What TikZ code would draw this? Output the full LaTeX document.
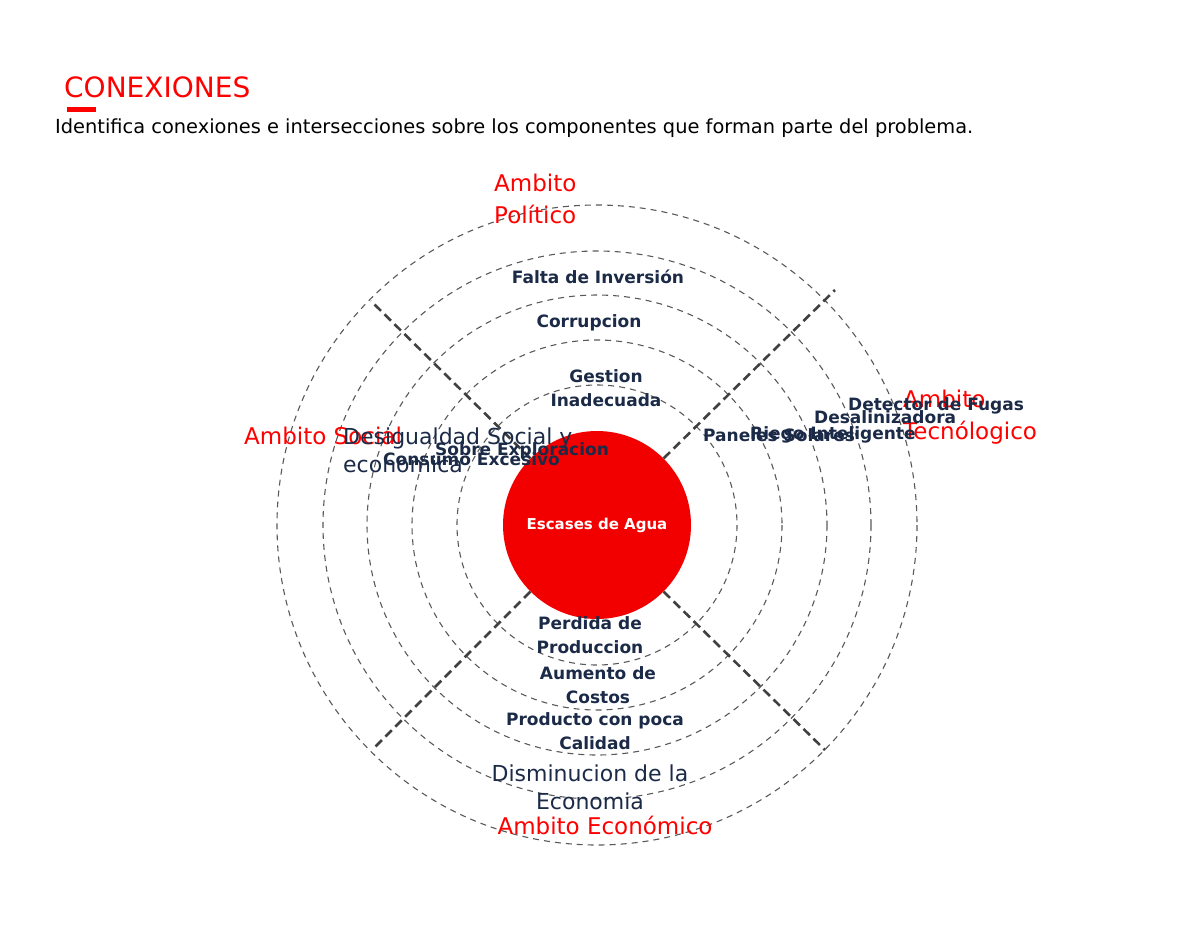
\documentclass[tikz,border=0pt]{standalone}
\usepackage{fontspec}
\setmainfont{DejaVu Sans}
\begin{document}
\begin{tikzpicture}[x=1pt,y=-1pt,
  ring/.style={draw=black!65,line width=1.1pt,dash pattern=on 6pt off 5pt},
  axis/.style={draw=black!75,line width=2.6pt,dash pattern=on 9pt off 5pt},
  lbl/.style={text=navy,font=\bfseries\fontsize{17}{24}\selectfont,align=center,inner sep=0pt},
  big/.style={text=navy,font=\fontsize{22}{28}\selectfont,align=center,inner sep=0pt},
  cat/.style={text=red,font=\fontsize{23}{32}\selectfont,align=left,inner sep=0pt}]
\definecolor{navy}{HTML}{1B2A47}
\useasboundingbox (0,0) rectangle (1200,927);
\node[anchor=west,text=red,font=\fontsize{28}{32}\selectfont,inner sep=0pt] (title) at (64,87) {CONEXIONES};
\fill[red] (67,107) rectangle (96,112);
\node[anchor=west,font=\fontsize{19.4}{22}\selectfont,inner sep=0pt] (sub) at (55,128) {Identifica conexiones e intersecciones sobre los componentes que forman parte del problema.};
\coordinate (c) at (597,525);
\foreach \r in {320,274,230,185,140} \draw[ring] (c) circle (\r);
\node[circle,fill=red!95!black,minimum size=188pt,inner sep=0pt,text=white,font=\bfseries\fontsize{15}{18}\selectfont] (core) at (c) {Escases de Agua};
\coordinate (tl) at (371,301); \coordinate (tr) at (835,290);
\coordinate (bl) at (372,750); \coordinate (br) at (825,750);
\draw[axis] (core.135) -- (tl);
\draw[axis] (core.45) -- (tr);
\draw[axis] (core.225) -- (bl);
\draw[axis] (core.-45) -- (br);
\node[cat,anchor=north west] (pol) at (494,174) {Ambito\\Político};
\node[cat,anchor=west] (soc) at (244,436) {Ambito Social};
\node[cat,anchor=north west] (tec) at (903,390) {Ambito\\Tecnólogico};
\node[cat,anchor=center] (eco) at (605,825) {Ambito Económico};
\node[lbl] (f) at (598,277) {Falta de Inversión};
\node[lbl] (co) at (589,323) {Corrupcion};
\node[lbl] (g) at (606,388) {Gestion\\Inadecuada};
\node[big,anchor=west,align=left] (d) at (343,450) {Desigualdad Social y\\economica};
\node[lbl,anchor=west] (se) at (435,451) {Sobre Exploracion};
\node[lbl,anchor=west] (ce) at (383,459) {Consumo Excesivo};
\node[lbl,anchor=west] (df) at (848,406) {Detector de Fugas};
\node[lbl,anchor=west] (de) at (814,417) {Desalinizadora};
\node[lbl,anchor=west] (ps) at (703,435) {Paneles Solares};
\node[lbl,anchor=west] (ri) at (750,435) {Riego Inteligente};
\node[lbl] (pp) at (590,635) {Perdida de\\Produccion};
\node[lbl] (ac) at (598,685) {Aumento de\\Costos};
\node[lbl] (pc) at (595,731) {Producto con poca\\Calidad};
\node[big] (dis) at (590,787) {Disminucion de la\\Economia};
\end{tikzpicture}
\end{document}
